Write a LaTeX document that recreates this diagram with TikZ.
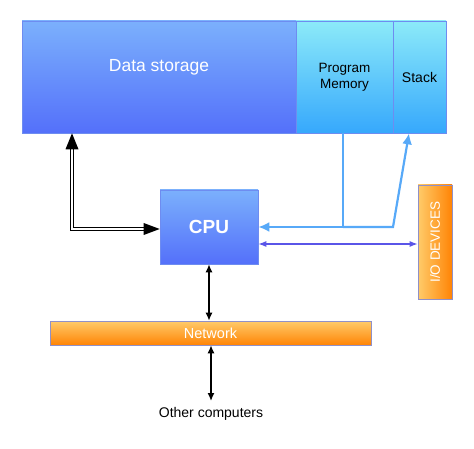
\documentclass[tikz,border=0pt]{standalone}
\usepackage{fontspec}
\setmainfont{Liberation Sans}
\usetikzlibrary{arrows.meta}
\definecolor{dsTop}{HTML}{7BB0FC}
\definecolor{dsBot}{HTML}{5470FA}
\definecolor{pmTop}{HTML}{8CEAF9}
\definecolor{pmBot}{HTML}{36A8FC}
\definecolor{boxLine}{HTML}{6E8CF0}
\definecolor{orTop}{HTML}{FFCB6A}
\definecolor{orBot}{HTML}{FF8405}
\definecolor{orLine}{HTML}{9090C8}
\definecolor{skyArrow}{HTML}{57A9F8}
\definecolor{ioArrow}{HTML}{5A55E8}
\tikzset{
  box/.style={draw=boxLine, line width=0.6pt, inner sep=0pt, minimum width=#1},
  bluebox/.style={top color=dsTop, bottom color=dsBot},
  cyanbox/.style={top color=pmTop, bottom color=pmBot},
  orangev/.style={top color=orTop, bottom color=orBot, draw=orLine, line width=0.6pt, inner sep=0pt},
  orangeh/.style={left color=orTop, right color=orBot, draw=orLine, line width=0.6pt, inner sep=0pt},
  blk/.style={line width=1.4pt, {Latex[length=8pt,width=7pt]}-{Latex[length=8pt,width=7pt]}},
  dbl/.style={double=white, double distance=1.6pt, line width=1.1pt},
}
\begin{document}
\begin{tikzpicture}[x=1pt,y=-1pt]
\useasboundingbox (0,0) rectangle (474,449);
% memory blocks
\node[box=274pt, bluebox, minimum height=112pt,
      label={[text=white, font=\fontsize{17.5}{19}\selectfont, yshift=10pt]center:Data storage}]
      (ds) at (159,77) {};
\node[box=97pt, cyanbox, minimum height=112pt, align=center,
      font=\fontsize{13.5}{16}\selectfont, text=black]
      (pm) at (344.5,77) {Program\\Memory};
\node[box=53pt, cyanbox, minimum height=112pt,
      font=\fontsize{14}{16}\selectfont, text=black]
      (st) at (419.5,77) {Stack};
% CPU
\node[box=98pt, bluebox, minimum height=74pt, text=white,
      font=\bfseries\fontsize{19}{21}\selectfont]
      (cpu) at (209,227) {CPU};
% I/O devices
\node[orangeh, minimum width=34pt, minimum height=114pt] (io) at (435,242) {};
\node[rotate=90, text=white, font=\fontsize{13.5}{15}\selectfont] at (io.center) {I/O DEVICES};
% Network
\node[orangev, minimum width=321pt, minimum height=24pt, text=white,
      font=\fontsize{14.5}{16}\selectfont] (net) at (210.5,333) {Network};
% Other computers
\node[font=\fontsize{14}{16}\selectfont] (oc) at (211,414) {Other computers};
\coordinate (ocTop) at (211,401);

% connectors
% data storage <-> CPU (double line)
\draw[dbl, shorten <=9pt, shorten >=9pt] (ds.south -| 72,0) |- (cpu.west |- 0,229);
\fill (ds.south -| 72,0) -- ++(-6.5,16) -- ++(13,0) -- cycle;
\fill (cpu.west |- 0,229) -- ++(-16,-6) -- ++(0,12) -- cycle;
% program memory -> CPU, and -> stack
\coordinate (j) at (343,227);
\coordinate (k) at (393,227);
\draw[skyArrow, line width=2.2pt, -{Latex[length=11pt,width=10pt]}] (pm.south -| j) -- (j) -- (cpu.east |- j);
\draw[skyArrow, line width=2.2pt, -{Latex[length=11pt,width=10pt]}] (j) -- (k) -- (st.south -| 409,0);
% CPU <-> I/O
\draw[ioArrow, line width=1.3pt, {Latex[length=8pt,width=6pt]}-{Latex[length=8pt,width=6pt]}] (cpu.east |- 0,244) -- (io.west |- 0,244);
% CPU <-> network
\draw[blk] (cpu.south) -- (net.north -| cpu.south);
% network <-> other computers
\draw[blk] (net.south -| ocTop) -- (ocTop);
\end{tikzpicture}
\end{document}
